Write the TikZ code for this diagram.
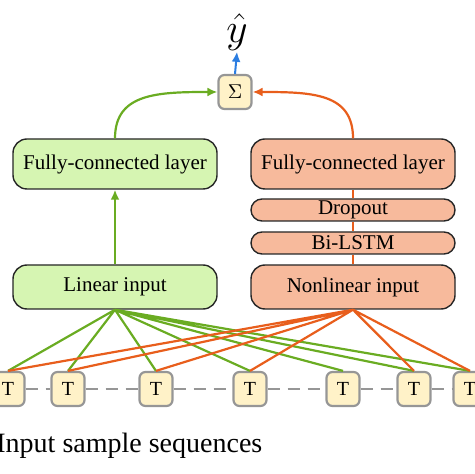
\documentclass[tikz,border=0pt]{standalone}
\usepackage{fontspec}
\setmainfont{Liberation Serif}
\usepackage{tikz}
\usetikzlibrary{arrows.meta}

\definecolor{lingreen}{RGB}{214,245,178}
\definecolor{nlinorange}{RGB}{247,186,156}
\definecolor{tokyellow}{RGB}{255,242,200}
\definecolor{tokgray}{RGB}{150,150,150}
\definecolor{lgreen}{RGB}{106,172,34}
\definecolor{lorange}{RGB}{232,94,28}
\definecolor{lblue}{RGB}{43,125,225}

\begin{document}
\begin{tikzpicture}[x = 0.5pt, y = -0.5pt,
    layer/.style = {draw = black!85, line width = 0.7pt, rounded corners = 7pt,
        minimum width = 102pt, inner sep = 0pt, font = \fontsize{10.5}{12}\selectfont},
    linbox/.style = {layer, fill = lingreen},
    nlinbox/.style = {layer, fill = nlinorange},
    thinbox/.style = {nlinbox, minimum height = 11pt, rounded corners = 5.5pt},
    tok/.style = {draw = tokgray, line width = 1.1pt, fill = tokyellow, rounded corners = 3pt,
        minimum width = 16.5pt, minimum height = 17pt, inner sep = 0pt,
        font = \fontsize{10}{12}\selectfont},
    flow/.style = {-{Latex[length = 5pt, width = 4.5pt]}, line width = 1.1pt},
    glink/.style = {draw = lgreen, line width = 1.1pt},
    olink/.style = {draw = lorange, line width = 1.1pt}]
    \useasboundingbox (0, 0) rectangle (474, 474);

    %% output
    \node[tok] (sig) at (235, 92) {$\Sigma$};
    \node[inner sep = 0.5pt, font = \fontsize{21}{24}\selectfont] (yhat) at (237, 32) {$\hat{y}$};
    \draw[flow, lblue, line width = 1pt] (sig.north) -- (yhat.south);

    %% linear branch
    \node[linbox, minimum height = 25pt] (fcl) at (115, 164) {Fully-connected layer};
    \node[linbox, minimum height = 22pt] (lin) at (115, 287) {Linear input};
    \draw[flow, lgreen] (lin.north) -- (fcl.south);
    \draw[flow, lgreen] (fcl.north)
        .. controls +(0, -45) and +(-60, 0) .. (sig.west);

    %% nonlinear branch
    \node[nlinbox, minimum height = 25pt] (fcr) at (353, 164) {Fully-connected layer};
    \node[thinbox] (drop) at (353, 210) {Dropout};
    \node[thinbox] (lstm) at (353, 243) {Bi-LSTM};
    \node[nlinbox, minimum height = 22pt] (nlin) at (353, 287) {Nonlinear input};
    \draw[lorange, line width = 0.6pt] (fcr.south) -- (drop.north)
        (drop.south) -- (lstm.north) (lstm.south) -- (nlin.north);
    \draw[flow, lorange] (fcr.north)
        .. controls +(0, -45) and +(60, 0) .. (sig.east);

    %% sequence
    \node[tok] (t1) at (8, 389) {T};
    \node[tok] (t2) at (68, 389) {T};
    \node[tok] (t3) at (156, 389) {T};
    \node[tok] (t4) at (250, 389) {T};
    \node[tok] (t5) at (343, 389) {T};
    \node[tok] (t6) at (414, 389) {T};
    \node[tok] (t7) at (470, 389) {T};
    \draw[tokgray, line width = 1.1pt, dash pattern = on 6pt off 4pt]
        (t1.east) -- (t2.west) (t2.east) -- (t3.west) (t3.east) -- (t4.west)
        (t4.east) -- (t5.west) (t5.east) -- (t6.west) (t6.east) -- (t7.west);

    %% links
    \draw[glink] (lin.south) -- (t1.north) (lin.south) -- (t2.north)
        (lin.south) -- (t3.north) (lin.south) -- (t4.north)
        (lin.south) -- (t5.north) (lin.south) -- (t6.north)
        (lin.south) -- (t7.north);
    \draw[olink] (nlin.south) -- (t1.north) (nlin.south) -- (t2.north)
        (nlin.south) -- (t3.north) (nlin.south) -- (t4.north)
        (nlin.south) -- (t6.north) (nlin.south) -- (t7.north);

    \node[anchor = base west, inner sep = 0pt, font = \fontsize{14}{17}\selectfont] (caption)
        at (-4, 452) {Input sample sequences};
\end{tikzpicture}
\end{document}
